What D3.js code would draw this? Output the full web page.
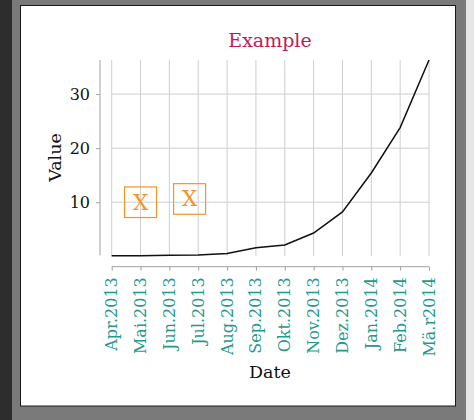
<!DOCTYPE html>
<html><head><meta charset="utf-8">
<script src="https://cdn.jsdelivr.net/npm/d3@7"></script>
<style>
html,body{margin:0;padding:0;background:#2d2d2d;}
svg{display:block;}
text{font-family:"DejaVu Serif",serif;}
</style></head>
<body>
<svg id="chart" width="474" height="420"></svg>
<script>
const categories = ["Apr.2013","Mai.2013","Jun.2013","Jul.2013","Aug.2013","Sep.2013","Okt.2013","Nov.2013","Dez.2013","Jan.2014","Feb.2014","Mä.r2014"];
const values = [0.1, 0.1, 0.2, 0.25, 0.5, 1.6, 2.1, 4.3, 8.2, 15.4, 23.8, 36.3];
const yTicks = [10, 20, 30];
const yMax = 36.3;
const annIndex = [1, 2.7];
const annValue = [10, 10.6];
const annText = ["X", "X"];
const titleText = "Example";
const xLabel = "Date";
const yLabel = "Value";

(function(){
const svg = d3.select("#chart");
svg.append("rect").attr("x",0).attr("y",0).attr("width",474).attr("height",420).attr("fill","#2d2d2d");
svg.append("rect").attr("x",12).attr("y",0).attr("width",454).attr("height",420).attr("fill","#7a7a7a");
svg.append("rect").attr("x",466).attr("y",0).attr("width",8).attr("height",420).attr("fill","#e6e6e6");
svg.append("rect").attr("x",20.5).attr("y",5.5).attr("width",435).attr("height",400.5)
  .attr("fill","#ffffff").attr("stroke","#1a1a1a").attr("stroke-width",1);

const pL = 111.7, pR = 429, pT = 60, pB = 256.3;
const x = d3.scalePoint().domain(categories).range([pL, pR]);
const xi = d3.scaleLinear().domain([0, categories.length-1]).range([pL, pR]);
const y = d3.scaleLinear().domain([0, yMax]).range([pB, pT]);

const grid = svg.append("g").attr("stroke","#cfcfcf").attr("stroke-width",1);
categories.forEach(c => grid.append("line").attr("x1",x(c)).attr("x2",x(c)).attr("y1",pT).attr("y2",pB));
yTicks.forEach(t => grid.append("line").attr("x1",pL).attr("x2",pR).attr("y1",y(t)).attr("y2",y(t)));

const yAxis = d3.axisLeft(y).tickValues(yTicks).tickSize(4).tickPadding(6).tickFormat(d3.format("d"));
const gy = svg.append("g").attr("transform","translate(100,0)").call(yAxis);
gy.select(".domain").attr("d", `M0,${pT}V${pB-1}`).attr("stroke","#a0a0a0");
gy.selectAll(".tick line").attr("stroke","#a0a0a0");
gy.selectAll(".tick text").attr("font-family","DejaVu Serif").attr("font-size",16).attr("fill","#111");

const xAxis = d3.axisBottom(x).tickSize(4).tickSizeOuter(0).tickFormat(d=>d);
const gx = svg.append("g").attr("transform","translate(0,266.7)").call(xAxis);
gx.select(".domain").attr("d", `M${pL},0H${pR}`).attr("stroke","#a0a0a0");
gx.selectAll(".tick line").attr("stroke","#a0a0a0");
gx.selectAll(".tick text")
  .attr("font-family","DejaVu Serif").attr("font-size",16).attr("fill","#1f9a8e")
  .attr("text-anchor","end").attr("dy",null).attr("y",null)
  .attr("transform","translate(5,10.5) rotate(-90)");

const line = d3.line().x((d,i)=>x(categories[i])).y(d=>y(d));
svg.append("path").datum(values).attr("d",line).attr("fill","none").attr("stroke","#111").attr("stroke-width",1.5);

annIndex.forEach((a,i)=>{
  const cx = xi(a), cy = y(annValue[i]);
  svg.append("rect").attr("x",cx-16).attr("y",cy-15.3).attr("width",32).attr("height",30.6)
    .attr("fill","none").attr("stroke","#f3932a").attr("stroke-width",1.2);
  svg.append("text").attr("x",cx).attr("y",cy+7.5).attr("text-anchor","middle")
    .attr("font-size",21.5).attr("fill","#f3932a").text(annText[i]);
});

svg.append("text").attr("x",270).attr("y",47).attr("text-anchor","middle").attr("font-size",19).attr("fill","#c2185b").text(titleText);
svg.append("text").attr("x",270).attr("y",378).attr("text-anchor","middle").attr("font-size",17.5).attr("fill","#111").text(xLabel);
svg.append("text").attr("transform","translate(61,157.5) rotate(-90)").attr("text-anchor","middle").attr("font-size",17.5).attr("fill","#111").text(yLabel);
})();
</script>
</body></html>
